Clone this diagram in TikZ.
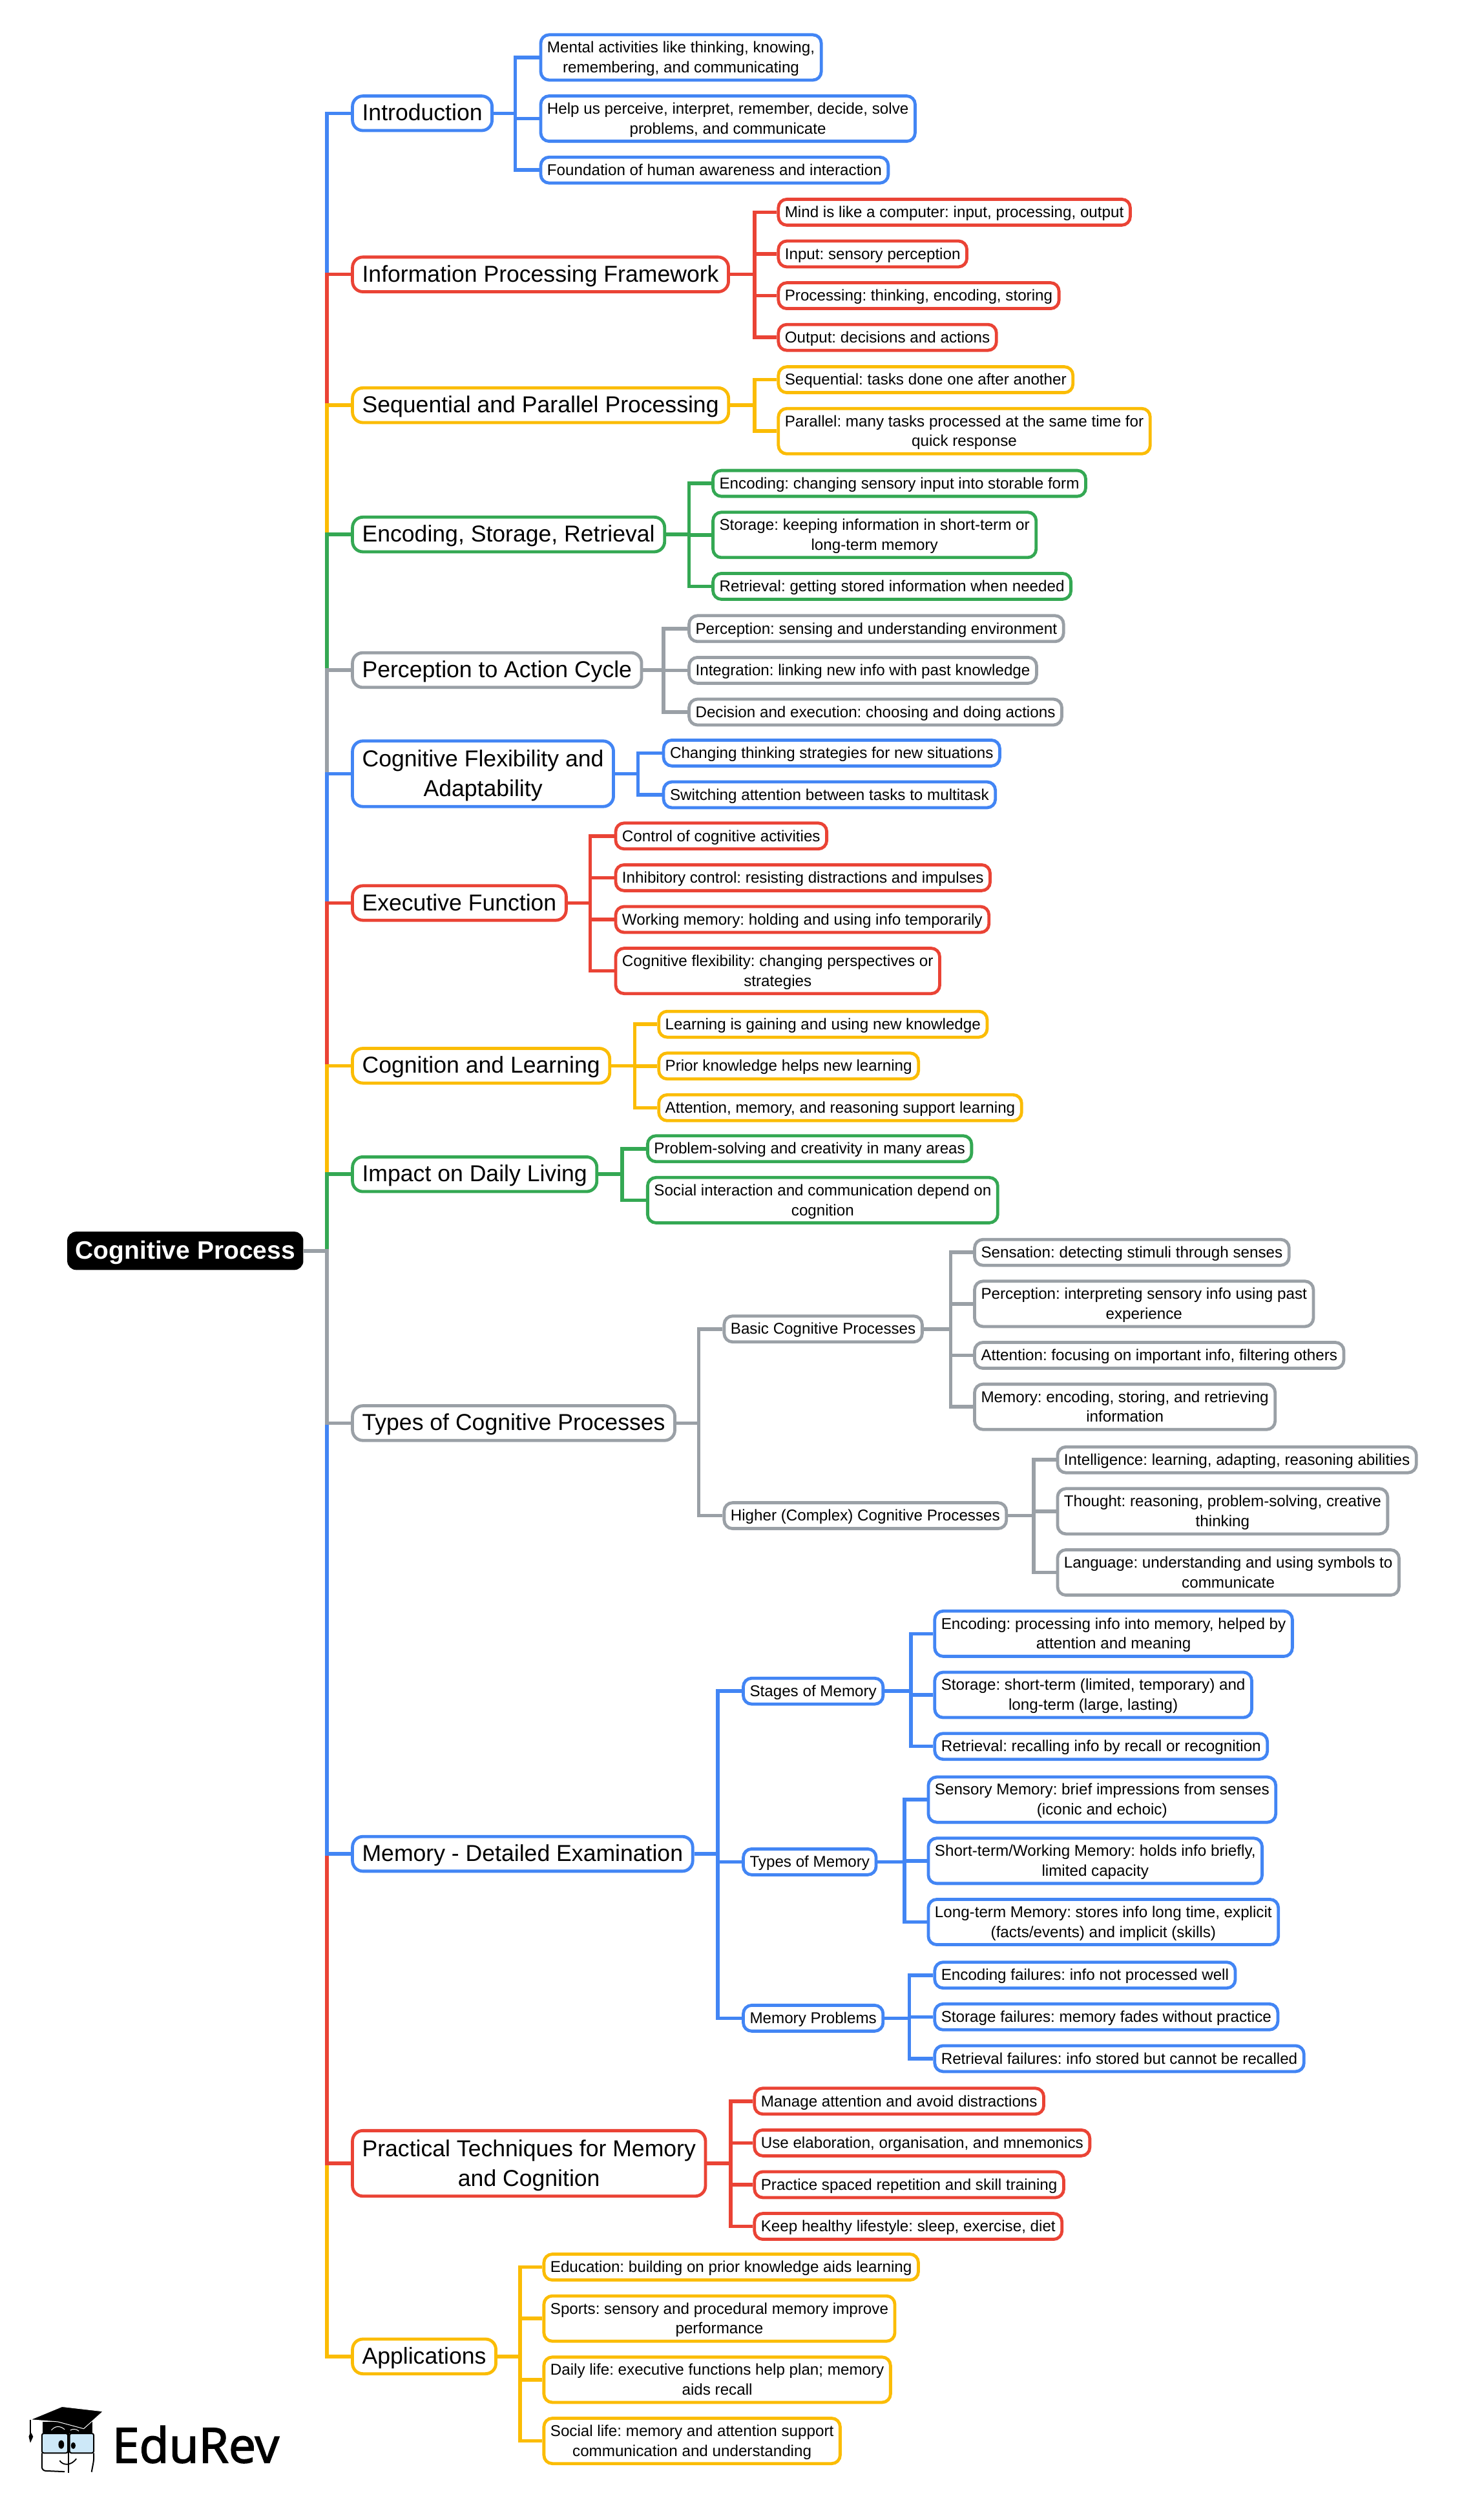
\documentclass[tikz,border=0pt]{standalone}
\usepackage{fontspec}
\setmainfont{Liberation Sans}
\newfontfamily\logofont[FakeBold=2.2]{Open Sans}
\usepackage{tikz}
\usetikzlibrary{positioning}
\usepackage{xcolor}
\definecolor{gblue}{HTML}{4285F4}
\definecolor{gred}{HTML}{EA4335}
\definecolor{gyellow}{HTML}{FBBC04}
\definecolor{ggreen}{HTML}{34A853}
\definecolor{ggray}{HTML}{9AA0A6}
\definecolor{lens}{HTML}{CDE8F8}
\frenchspacing
\newcommand{\lft}{\rule{0pt}{.9em}}

\begin{document}
\begin{tikzpicture}[x=1.2346pt, y=-1.2346pt,
    rootbox/.style={fill=black, text=white, rounded corners=7pt, anchor=west, minimum height=29.6pt, minimum width=182.7pt, inner xsep=0pt, execute at begin node={\rule[-.2em]{0pt}{1.05em}}, font=\fontsize{19.5}{24}\selectfont\bfseries},
    mainbox/.style={draw=#1, line width=2.4pt, fill=white, rounded corners=8pt, anchor=west, align=center, inner xsep=7.5pt, inner ysep=4pt, minimum height=26pt, execute at begin node={\rule[-.2em]{0pt}{1.05em}}, font=\fontsize{17.8}{23}\selectfont},
    leafbox/.style={draw=#1, line width=2.4pt, fill=white, rounded corners=6.5pt, anchor=west, align=center, inner xsep=5pt, inner ysep=3.05pt, minimum height=20pt, execute at begin node={\rule[-.22em]{0pt}{1.12em}}, font=\fontsize{12.1}{15.4}\selectfont},
    under/.style={below=9.9pt of #1.south west, anchor=north west},
    link/.style={draw=#1, line width=2.8pt}]

  \useasboundingbox (0,0) rectangle (930.25,1567);

  % centre and main branches
  \node[rootbox] (root) at (42,784) {Cognitive Process};
  \coordinate (trunk) at (205,784);

  \node[mainbox=gblue] (intro) at (220,71) {Introduction};
  \node[mainbox=gred] (info) at (220,172) {Information Processing Framework};
  \node[mainbox=gyellow] (seqpar) at (220,254) {Sequential and Parallel Processing};
  \node[mainbox=ggreen] (esr) at (220,335) {Encoding, Storage, Retrieval};
  \node[mainbox=ggray] (cycle) at (220,420) {Perception to Action Cycle};
  \node[mainbox=gblue] (flex) at (220,485) {\lft Cognitive Flexibility and\\Adaptability};
  \node[mainbox=gred] (exec) at (220,566) {Executive Function};
  \node[mainbox=gyellow] (learn) at (220,668) {Cognition and Learning};
  \node[mainbox=ggreen] (daily) at (220,736) {Impact on Daily Living};
  \node[mainbox=ggray] (types) at (220,892) {Types of Cognitive Processes};
  \node[mainbox=gblue] (memory) at (220,1162) {Memory - Detailed Examination};
  \node[mainbox=gred] (tech) at (220,1356) {\lft Practical Techniques for Memory\\and Cognition};
  \node[mainbox=gyellow] (apps) at (220,1477) {Applications};

  % upper branches, later ones on top
  \draw[link=gblue] (root.east) -- (trunk) |- (intro.west);
  \draw[link=gred] (root.east) -- (trunk) |- (info.west);
  \draw[link=gyellow] (root.east) -- (trunk) |- (seqpar.west);
  \draw[link=ggreen] (root.east) -- (trunk) |- (esr.west);
  \draw[link=ggray] (root.east) -- (trunk) |- (cycle.west);
  \draw[link=gblue] (root.east) -- (trunk) |- (flex.west);
  \draw[link=gred] (root.east) -- (trunk) |- (exec.west);
  \draw[link=gyellow] (root.east) -- (trunk) |- (learn.west);
  \draw[link=ggreen] (root.east) -- (trunk) |- (daily.west);
  % lower branches, nearer ones on top
  \draw[link=gyellow] (root.east) -- (trunk) |- (apps.west);
  \draw[link=gred] (root.east) -- (trunk) |- (tech.west);
  \draw[link=gblue] (root.east) -- (trunk) |- (memory.west);
  \draw[link=ggray] (root.east) -- (trunk) |- (types.west);

  % Introduction
  \node[leafbox=gblue] (intro1) at (338,36) {\lft Mental activities like thinking, knowing,\\remembering, and communicating};
  \node[leafbox=gblue, under=intro1] (intro2) {\lft Help us perceive, interpret, remember, decide, solve\\problems, and communicate};
  \node[leafbox=gblue, under=intro2] (intro3) {Foundation of human awareness and interaction};
  \coordinate (jintro) at (323,71);
  \foreach \n in {intro1,intro2,intro3}
    \draw[link=gblue] (intro.east) -- (jintro) |- (\n.west);

  % Information Processing Framework
  \node[leafbox=gred] (info1) at (487,133) {Mind is like a computer: input, processing, output};
  \node[leafbox=gred, under=info1] (info2) {Input: sensory perception};
  \node[leafbox=gred, under=info2] (info3) {Processing: thinking, encoding, storing};
  \node[leafbox=gred, under=info3] (info4) {Output: decisions and actions};
  \coordinate (jinfo) at (473,172);
  \foreach \n in {info1,info2,info3,info4}
    \draw[link=gred] (info.east) -- (jinfo) |- (\n.west);

  % Sequential and Parallel Processing
  \node[leafbox=gyellow] (seq1) at (487,238) {Sequential: tasks done one after another};
  \node[leafbox=gyellow, under=seq1] (seq2) {\lft Parallel: many tasks processed at the same time for\\quick response};
  \coordinate (jseq) at (473,254);
  \foreach \n in {seq1,seq2}
    \draw[link=gyellow] (seqpar.east) -- (jseq) |- (\n.west);

  % Encoding, Storage, Retrieval
  \node[leafbox=ggreen] (esr1) at (446,303) {Encoding: changing sensory input into storable form};
  \node[leafbox=ggreen, under=esr1] (esr2) {\lft Storage: keeping information in short-term or\\long-term memory};
  \node[leafbox=ggreen, under=esr2] (esr3) {Retrieval: getting stored information when needed};
  \coordinate (jesr) at (432,335);
  \foreach \n in {esr1,esr2,esr3}
    \draw[link=ggreen] (esr.east) -- (jesr) |- (\n.west);

  % Perception to Action Cycle
  \node[leafbox=ggray] (cyc1) at (431,394) {Perception: sensing and understanding environment};
  \node[leafbox=ggray, under=cyc1] (cyc2) {Integration: linking new info with past knowledge};
  \node[leafbox=ggray, under=cyc2] (cyc3) {Decision and execution: choosing and doing actions};
  \coordinate (jcyc) at (416,420);
  \foreach \n in {cyc1,cyc2,cyc3}
    \draw[link=ggray] (cycle.east) -- (jcyc) |- (\n.west);

  % Cognitive Flexibility and Adaptability
  \node[leafbox=gblue] (flex1) at (415,472) {Changing thinking strategies for new situations};
  \node[leafbox=gblue, under=flex1] (flex2) {Switching attention between tasks to multitask};
  \coordinate (jflex) at (400,485);
  \foreach \n in {flex1,flex2}
    \draw[link=gblue] (flex.east) -- (jflex) |- (\n.west);

  % Executive Function
  \node[leafbox=gred] (exec1) at (385,524) {Control of cognitive activities};
  \node[leafbox=gred, under=exec1] (exec2) {Inhibitory control: resisting distractions and impulses};
  \node[leafbox=gred, under=exec2] (exec3) {Working memory: holding and using info temporarily};
  \node[leafbox=gred, under=exec3] (exec4) {\lft Cognitive flexibility: changing perspectives or\\strategies};
  \coordinate (jexec) at (370,566);
  \foreach \n in {exec1,exec2,exec3,exec4}
    \draw[link=gred] (exec.east) -- (jexec) |- (\n.west);

  % Cognition and Learning
  \node[leafbox=gyellow] (learn1) at (412,642) {Learning is gaining and using new knowledge};
  \node[leafbox=gyellow, under=learn1] (learn2) {Prior knowledge helps new learning};
  \node[leafbox=gyellow, under=learn2] (learn3) {Attention, memory, and reasoning support learning};
  \coordinate (jlearn) at (398,668);
  \foreach \n in {learn1,learn2,learn3}
    \draw[link=gyellow] (learn.east) -- (jlearn) |- (\n.west);

  % Impact on Daily Living
  \node[leafbox=ggreen] (daily1) at (405,720) {Problem-solving and creativity in many areas};
  \node[leafbox=ggreen, under=daily1] (daily2) {\lft Social interaction and communication depend on\\cognition};
  \coordinate (jdaily) at (390,736);
  \foreach \n in {daily1,daily2}
    \draw[link=ggreen] (daily.east) -- (jdaily) |- (\n.west);

  % Types of Cognitive Processes
  \node[leafbox=ggray] (basic) at (453,833) {Basic Cognitive Processes};
  \node[leafbox=ggray] (higher) at (453,950) {Higher (Complex) Cognitive Processes};
  \coordinate (jtypes) at (438,892);
  \foreach \n in {basic,higher}
    \draw[link=ggray] (types.east) -- (jtypes) |- (\n.west);

  \node[leafbox=ggray] (basic1) at (610,785) {Sensation: detecting stimuli through senses};
  \node[leafbox=ggray, under=basic1] (basic2) {\lft Perception: interpreting sensory info using past\\experience};
  \node[leafbox=ggray, under=basic2] (basic3) {Attention: focusing on important info, filtering others};
  \node[leafbox=ggray, under=basic3] (basic4) {\lft Memory: encoding, storing, and retrieving\\information};
  \coordinate (jbasic) at (596,833);
  \foreach \n in {basic1,basic2,basic3,basic4}
    \draw[link=ggray] (basic.east) -- (jbasic) |- (\n.west);

  \node[leafbox=ggray] (higher1) at (662,915) {Intelligence: learning, adapting, reasoning abilities};
  \node[leafbox=ggray, under=higher1] (higher2) {\lft Thought: reasoning, problem-solving, creative\\thinking};
  \node[leafbox=ggray, under=higher2] (higher3) {\lft Language: understanding and using symbols to\\communicate};
  \coordinate (jhigher) at (648,950);
  \foreach \n in {higher1,higher2,higher3}
    \draw[link=ggray] (higher.east) -- (jhigher) |- (\n.west);

  % Memory - Detailed Examination
  \node[leafbox=gblue] (stages) at (465,1060) {Stages of Memory};
  \node[leafbox=gblue] (kinds) at (465,1167) {Types of Memory};
  \node[leafbox=gblue] (probs) at (465,1265) {Memory Problems};
  \coordinate (jmem) at (450,1162);
  \foreach \n in {stages,kinds,probs}
    \draw[link=gblue] (memory.east) -- (jmem) |- (\n.west);

  \node[leafbox=gblue] (stage1) at (585,1024) {\lft Encoding: processing info into memory, helped by\\attention and meaning};
  \node[leafbox=gblue, under=stage1] (stage2) {\lft Storage: short-term (limited, temporary) and\\long-term (large, lasting)};
  \node[leafbox=gblue, under=stage2] (stage3) {Retrieval: recalling info by recall or recognition};
  \coordinate (jstage) at (571,1060);
  \foreach \n in {stage1,stage2,stage3}
    \draw[link=gblue] (stages.east) -- (jstage) |- (\n.west);

  \node[leafbox=gblue] (kind1) at (581,1128) {\lft Sensory Memory: brief impressions from senses\\(iconic and echoic)};
  \node[leafbox=gblue, under=kind1] (kind2) {\lft Short-term/Working Memory: holds info briefly,\\limited capacity};
  \node[leafbox=gblue, under=kind2] (kind3) {\lft Long-term Memory: stores info long time, explicit\\(facts/events) and implicit (skills)};
  \coordinate (jkind) at (567,1167);
  \foreach \n in {kind1,kind2,kind3}
    \draw[link=gblue] (kinds.east) -- (jkind) |- (\n.west);

  \node[leafbox=gblue] (prob1) at (585,1238) {Encoding failures: info not processed well};
  \node[leafbox=gblue, under=prob1] (prob2) {Storage failures: memory fades without practice};
  \node[leafbox=gblue, under=prob2] (prob3) {Retrieval failures: info stored but cannot be recalled};
  \coordinate (jprob) at (570,1265);
  \foreach \n in {prob1,prob2,prob3}
    \draw[link=gblue] (probs.east) -- (jprob) |- (\n.west);

  % Practical Techniques
  \node[leafbox=gred] (tech1) at (472,1317) {Manage attention and avoid distractions};
  \node[leafbox=gred, under=tech1] (tech2) {Use elaboration, organisation, and mnemonics};
  \node[leafbox=gred, under=tech2] (tech3) {Practice spaced repetition and skill training};
  \node[leafbox=gred, under=tech3] (tech4) {Keep healthy lifestyle: sleep, exercise, diet};
  \coordinate (jtech) at (458,1356);
  \foreach \n in {tech1,tech2,tech3,tech4}
    \draw[link=gred] (tech.east) -- (jtech) |- (\n.west);

  % Applications
  \node[leafbox=gyellow] (app1) at (340,1421) {Education: building on prior knowledge aids learning};
  \node[leafbox=gyellow, under=app1] (app2) {\lft Sports: sensory and procedural memory improve\\performance};
  \node[leafbox=gyellow, under=app2] (app3) {\lft Daily life: executive functions help plan; memory\\aids recall};
  \node[leafbox=gyellow, under=app3] (app4) {\lft Social life: memory and attention support\\communication and understanding};
  \coordinate (japp) at (326,1477);
  \foreach \n in {app1,app2,app3,app4}
    \draw[link=gyellow] (apps.east) -- (japp) |- (\n.west);

  % logo
  \begin{scope}[x=1.222pt, y=-1.222pt]
  \fill (27,1533.6) -- (58.5,1533.6) -- (58.5,1541) -- (27,1541) -- cycle;
  \draw[white, line width=0.5pt] (32.5,1539) .. controls (35,1536) and (38,1536) .. (41,1538.5);
  \draw[white, line width=0.5pt] (44.5,1539) .. controls (46,1538) and (48,1538) .. (50,1539.5);
  \fill[draw=white, line width=0.5pt] (19.2,1532.3) -- (39.3,1524) -- (65.3,1527) -- (53,1538) -- (36.6,1533.6) -- cycle;
  \draw[line width=0.7pt] (19.2,1532.3) -- (19.2,1541);
  \fill (18.2,1543) -- (19.4,1540) -- (21,1543) -- (19.2,1547) -- cycle;
  \draw[fill=lens, line width=1pt, rounded corners=1.5pt] (26.5,1541) rectangle (43,1553.4);
  \draw[fill=lens, line width=1pt, rounded corners=1.5pt] (44,1541) rectangle (59.4,1553.4);
  \fill (38.8,1548) ellipse[x radius=1.8, y radius=2.7];
  \fill (46.4,1548.7) ellipse[x radius=1.5, y radius=2.1];
  \draw[line width=1pt, rounded corners=3pt] (26.5,1553.4) -- (26.5,1564.6) -- (41,1565.2);
  \draw[line width=1pt, rounded corners=2pt] (59.4,1553.4) -- (59.4,1558) -- (58,1565.4);
  \draw[line width=1pt] (43.4,1541) -- (43.4,1565.8);
  \draw[line width=0.9pt] (37.8,1558.2) .. controls (40,1561.5) and (45,1561.5) .. (48.4,1557);
  \node[inner sep=0pt, anchor=west, font=\fontsize{37.5}{40}\logofont] (logotext) at (71,1548) {EduRev};
  \end{scope}

\end{tikzpicture}
\end{document}
